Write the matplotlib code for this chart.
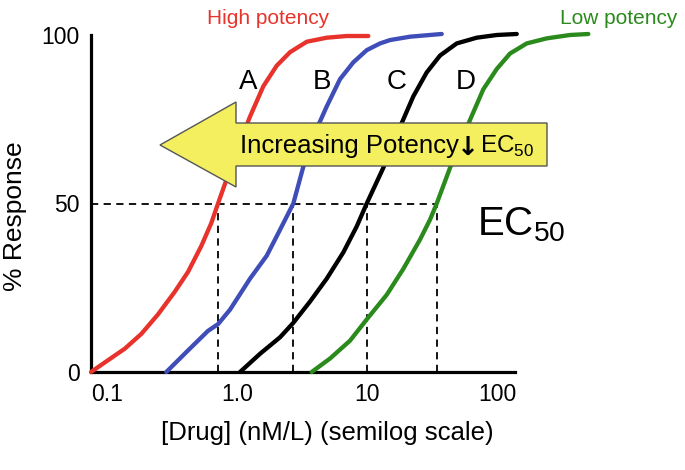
import matplotlib
matplotlib.use('Agg')
import matplotlib.pyplot as plt
from matplotlib.patches import Polygon

plt.rcParams['font.family'] = ['Liberation Sans', 'DejaVu Sans']
plt.rcParams['mathtext.fontset'] = 'custom'
plt.rcParams['mathtext.rm'] = 'Liberation Sans'

# dose-response curves (conc in nM/L, response in %)
a_conc = [0.0753, 0.1018, 0.1368, 0.1836, 0.2468, 0.3318, 0.4199, 0.5314, 0.6342, 0.7144,
          0.9947, 1.259, 1.594, 2.020, 2.557, 3.438, 4.898, 6.980, 10.23]
a_resp = [0, 3.5, 6.9, 11.3, 17.1, 23.8, 29.7, 37.4, 44.2, 50,
          65.7, 75.8, 84.8, 90.9, 94.9, 98.0, 99.2, 99.7, 99.7]

b_conc = [0.2859, 0.4199, 0.5981, 0.7144, 0.8836, 1.259, 1.692, 2.142, 2.711,
          3.219, 3.842, 4.898, 6.199, 7.847, 9.947, 12.59, 15.03, 21.42, 37.56]
b_resp = [0, 6.4, 12.2, 14.2, 18.5, 27.7, 34.5, 42.2, 50,
          60.6, 69.7, 78.8, 86.9, 91.9, 95.5, 97.5, 98.5, 99.5, 100.3]

c_conc = [1.055, 1.503, 2.142, 2.711, 3.643, 4.898, 6.573, 8.333, 9.947,
          13.35, 17.94, 22.71, 28.79, 36.43, 48.98, 69.80, 99.47, 141.8]
c_resp = [0, 5.4, 10.3, 14.6, 20.9, 27.7, 35.5, 43.2, 50,
          60.6, 72.7, 81.8, 88.9, 93.9, 97.5, 99.2, 100.0, 100.3]

d_conc = [3.754, 5.193, 7.400, 9.947, 14.17, 19.02, 25.57, 30.52, 34.38,
          43.51, 61.99, 78.47, 99.47, 125.9, 169.2, 241.2, 364.3, 503.9]
d_resp = [0, 4.0, 9.3, 15.6, 22.9, 30.6, 39.3, 45.2, 50,
          60.6, 74.8, 83.9, 89.9, 94.5, 97.5, 99.0, 100.0, 100.3]

ec50 = [0.7144, 2.711, 9.947, 34.38]
curve_names = ['A', 'B', 'C', 'D']
colors = ['#E8332D', '#3F4DB8', '#000000', '#2A8A1C']

xticks = [0.1, 1.0, 10, 100]
xticklabels = ['0.1', '1.0', '10', '100']
yticks = [0, 50, 100]

W, H = 685, 470
fig = plt.figure(figsize=(6.85, 4.7), dpi=100)
ax = fig.add_axes([91 / W, 1 - 372 / H, (515 - 91) / W, (372 - 35) / H])

def px(x, y):
    # pixel position -> figure fraction
    return x / W, 1 - y / H

# dashed EC50 guides
ax.hlines(50, a_conc[0], ec50[-1], colors='black', linestyles=(0, (4, 3)), lw=1.3, zorder=1)
ax.vlines(ec50, 0, 50, colors='black', linestyles=(0, (4, 3)), lw=1.3, zorder=1)

curves = [(a_conc, a_resp), (b_conc, b_resp), (c_conc, c_resp), (d_conc, d_resp)]
for (xs, ys), col in zip(curves, colors):
    ax.plot(xs, ys, color=col, lw=3.1, clip_on=False, zorder=3,
            solid_capstyle='round', solid_joinstyle='round')

ax.set_xscale('log')
ax.set_xlim(0.0753, 137.5)
ax.set_ylim(0, 100)
ax.set_xticks(xticks)
ax.set_xticklabels(xticklabels)
ax.minorticks_off()
ax.set_yticks(yticks)
ax.tick_params(length=0, labelsize=16.5, pad=8)
for s in ['top', 'right']:
    ax.spines[s].set_visible(False)
for s in ['left', 'bottom']:
    ax.spines[s].set_linewidth(2.3)
ax.patch.set_alpha(0)

ax.set_xlabel('[Drug] (nM/L) (semilog scale)', fontsize=18.5)
ax.xaxis.set_label_coords((327 - 91) / 424, -0.145)
ax.set_ylabel('% Response', fontsize=19)
ax.yaxis.set_label_coords(-0.152, (372 - 216) / 337)

# big yellow arrow
arrow_pts = [px(160, 145), px(236, 102), px(236, 123), px(547, 123),
             px(547, 166), px(236, 166), px(236, 187)]
fig.patches.append(Polygon(arrow_pts, closed=True, transform=fig.transFigure,
                           facecolor='#F3EF5E', edgecolor='#555555', lw=1, zorder=5))
fig.text(*px(240, 146), 'Increasing Potency', fontsize=18.5,
         ha='left', va='center', zorder=6)
fig.text(*px(468, 148), '\u2193', fontsize=19, family='DejaVu Sans', weight='bold',
         ha='center', va='center', zorder=6)
fig.text(*px(480, 146), 'EC$_{50}$', fontsize=17.5, ha='left', va='center', zorder=6)

# curve letters
for name, xp in zip(curve_names, [248, 322, 397, 466]):
    fig.text(*px(xp, 82), name, fontsize=20, ha='center', va='center')

fig.text(*px(268, 18), 'High potency', color='#E8332D', fontsize=15, ha='center', va='center')
fig.text(*px(677, 18), 'Low potency', color='#2A8A1C', fontsize=15, ha='right', va='center')
fig.text(*px(477, 235), 'EC$_{50}$', fontsize=29, ha='left', va='baseline')

fig.savefig('out.png', dpi=100)
